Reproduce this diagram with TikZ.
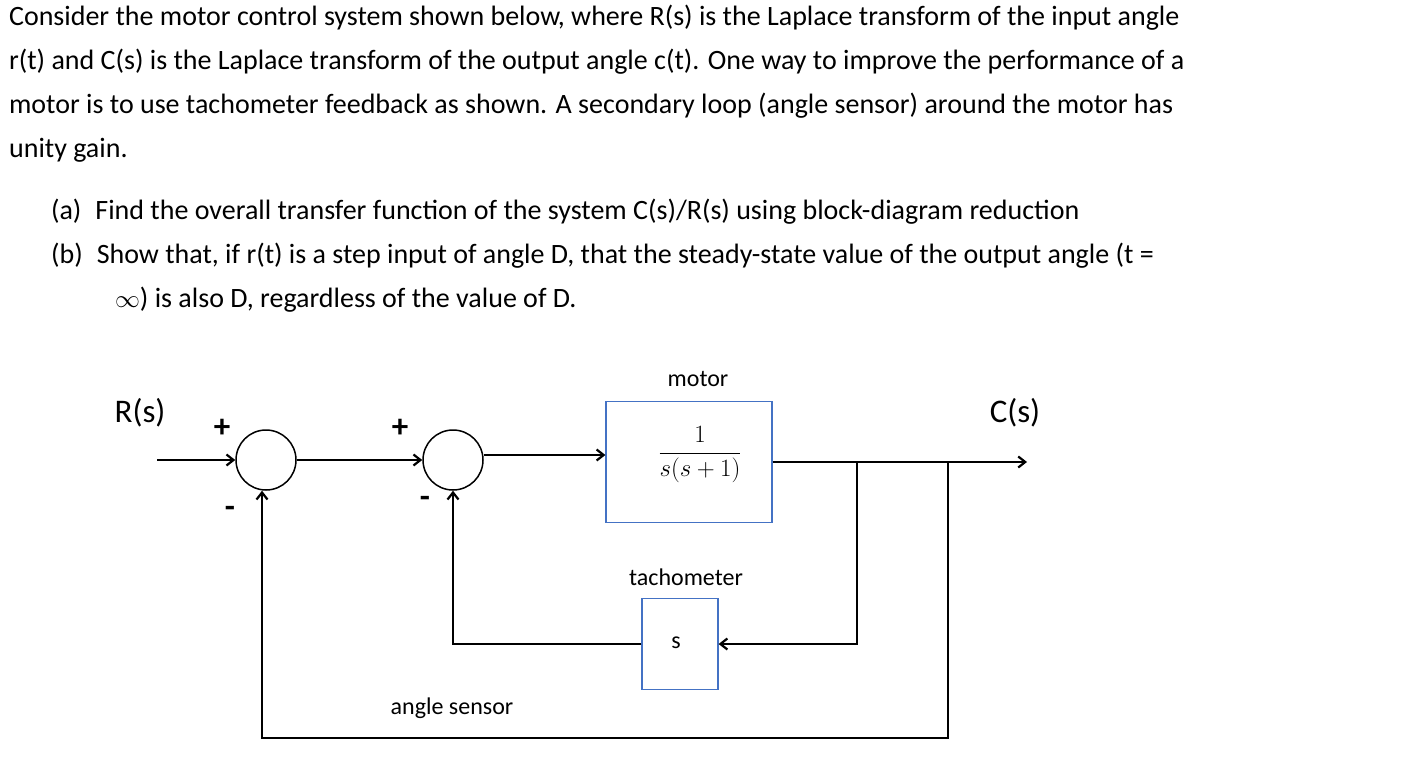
\documentclass[tikz,border=0pt]{standalone}
\usepackage{fontspec}
\setmainfont{Carlito}
\usetikzlibrary{arrows.meta}
\definecolor{bx}{HTML}{4472C4}
\begin{document}
\begin{tikzpicture}[x=1pt,y=-1pt,
  line width=2.2pt, >={Straight Barb[length=7pt,width=11pt]},
  sum/.style={draw,circle,minimum size=60pt,inner sep=0pt,line width=1.5pt},
  blk/.style={draw=bx,line width=1.2pt,inner sep=0pt},
  lab/.style={font=\fontsize{24}{28}\selectfont},
  big/.style={font=\fontsize{33}{36}\selectfont},
  txt/.style={anchor=north west,align=left,inner sep=0pt,font=\fontsize{28}{44}\selectfont}]
\useasboundingbox (0,0) rectangle (1412,770);
\node[txt] (txt) at (8,4)
{Consider the motor control system shown below, where R(s) is the Laplace transform of the input angle\\
r(t) and C(s) is the Laplace transform of the output angle c(t). One way to improve the performance of a\\
motor is to use tachometer feedback as shown. A secondary loop (angle sensor) around the motor has\\
unity gain.};
\node[txt] (qa) at (50,198)
{(a)\hspace{14pt}Find the overall transfer function of the system C(s)/R(s) using block-diagram reduction\\
(b)\hspace{14pt}Show that, if r(t) is a step input of angle D, that the steady-state value of the output angle (t =\\
\hspace{64pt}$\infty$) is also D, regardless of the value of D.};
\node[sum] (s1) at (266,460) {};
\node[sum] (s2) at (453,460) {};
\node[blk,minimum width=166pt,minimum height=121pt] (m) at (689,462) {};
\node[font=\fontsize{25}{30}\selectfont] (tf) at (700,455) {$\displaystyle\frac{1}{s(s+1)}$};
\node[blk,minimum width=76pt,minimum height=91pt] (t) at (680,644) {};
\node[lab] (ts) at (676,643) {s};
\node[lab] (ml) at (698,379) {motor};
\node[lab] (tl) at (686,577) {tachometer};
\node[lab] (al) at (452,708) {angle sensor};
\node[big] (R) at (140,413) {R(s)};
\node[big] (C) at (1015,413) {C(s)};
\node[big] (p1) at (222,428) {\textbf{+}};
\node[big] (p2) at (400,428) {\textbf{+}};
\node[big] (n1) at (230,512) {\textbf{-}};
\node[big] (n2) at (425,502) {\textbf{-}};
\coordinate (in) at (157,460);
\coordinate (out) at (1027,462);
\coordinate (k1) at (857,462);
\coordinate (k2) at (948,462);
\draw[->] (in) -- (s1);
\draw[->] (s1) -- (s2);
\draw[->] (s2.east |- 0,455) -- (m.west |- 0,455);
\draw[->] (m.east |- out) -- (out);
\draw[->] (k1) |- (t.east);
\draw[->] (t.west) -| (s2.south);
\draw[->] (k2) |- (262,738) -- (s1.south -| 262,0);
\end{tikzpicture}
\end{document}
